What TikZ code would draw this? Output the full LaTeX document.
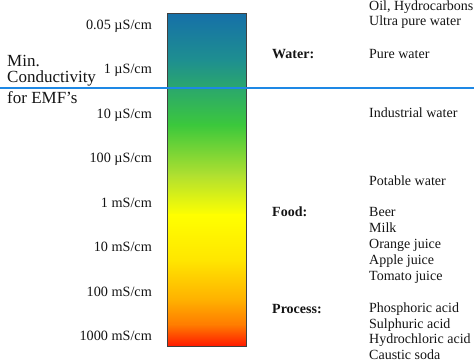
\documentclass[tikz,border=0pt]{standalone}
\usepackage{fontspec}
\setmainfont{Liberation Serif}
\begin{document}
\begin{tikzpicture}[x=1pt,y=-1pt,
  lab/.style={anchor=base east,inner sep=0pt,font=\fontsize{14.2}{16}\selectfont,text=black!92},
  item/.style={anchor=base west,inner sep=0pt,font=\fontsize{14}{16}\selectfont,text=black!92},
  cat/.style={anchor=base west,inner sep=0pt,font=\fontsize{14}{16}\selectfont\bfseries,text=black!92},
  big/.style={anchor=base west,inner sep=0pt,font=\fontsize{17}{18}\selectfont,text=black!92}]
\definecolor{c0}{HTML}{1670A8}
\definecolor{c1}{HTML}{1E8F90}
\definecolor{c2}{HTML}{3CC83C}
\definecolor{c3}{HTML}{B0E030}
\definecolor{c4}{HTML}{FFFF00}
\definecolor{c5}{HTML}{FFE600}
\definecolor{c6}{HTML}{FFB000}
\definecolor{c7}{HTML}{FF7A00}
\definecolor{c8}{HTML}{FF1A00}
\definecolor{lineblue}{HTML}{1E88E5}
\useasboundingbox (0,0) rectangle (474,363);
% gradient bar
\shade[top color=c0,bottom color=c1] (167,13.5) rectangle (246,60.5);
\shade[top color=c1,bottom color=c2] (167,60) rectangle (246,125.5);
\shade[top color=c2,bottom color=c3] (167,125) rectangle (246,175.5);
\shade[top color=c3,bottom color=c4] (167,175) rectangle (246,215.5);
\shade[top color=c4,bottom color=c5] (167,215) rectangle (246,260.5);
\shade[top color=c5,bottom color=c6] (167,260) rectangle (246,300.5);
\shade[top color=c6,bottom color=c7] (167,300) rectangle (246,325.5);
\shade[top color=c7,bottom color=c8] (167,325) rectangle (246,346);
\node[draw=black!75,line width=0.8pt,minimum width=79pt,minimum height=332.5pt,inner sep=0pt] (bar) at (206.5,179.75) {};
% blue line
\coordinate (l0) at (0,88.3);
\coordinate (l1) at (474,88.3);
\draw[lineblue,line width=2pt] (l0) -- (l1);
% scale labels
\node[lab] (s1) at (152,30) {0.05 µS/cm};
\node[lab] (s2) at (152,74) {1 µS/cm};
\node[lab] (s3) at (152,118.5) {10 µS/cm};
\node[lab] (s4) at (152,163) {100 µS/cm};
\node[lab] (s5) at (152,207.5) {1 mS/cm};
\node[lab] (s6) at (152,252) {10 mS/cm};
\node[lab] (s7) at (152,296.5) {100 mS/cm};
\node[lab] (s8) at (152,341) {1000 mS/cm};
% min conductivity
\node[big] (m1) at (7,67) {Min.};
\node[big] (m2) at (7,83) {Conductivity};
\node[big] (m3) at (7,104) {for EMF’s};
% categories
\node[cat] (cw) at (272,59) {Water:};
\node[cat] (cf) at (272,217) {Food:};
\node[cat] (cp) at (272,314) {Process:};
% items
\node[item] (i1) at (369,11) {Oil, Hydrocarbons};
\node[item] (i2) at (369,26) {Ultra pure water};
\node[item] (i3) at (369,59) {Pure water};
\node[item] (i4) at (369,118) {Industrial water};
\node[item] (i5) at (369,186) {Potable water};
\node[item] (i6) at (369,217) {Beer};
\node[item] (i7) at (369,233) {Milk};
\node[item] (i8) at (369,249) {Orange juice};
\node[item] (i9) at (369,265) {Apple juice};
\node[item] (i10) at (369,280.5) {Tomato juice};
\node[item] (i11) at (369,313) {Phosphoric acid};
\node[item] (i12) at (369,328.5) {Sulphuric acid};
\node[item] (i13) at (369,344) {Hydrochloric acid};
\node[item] (i14) at (369,359.5) {Caustic soda};
\end{tikzpicture}
\end{document}
